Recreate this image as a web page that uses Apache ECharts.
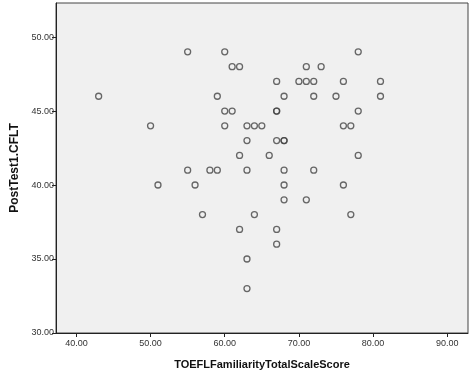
<!DOCTYPE html>
<html><head><meta charset="utf-8">
<script src="https://cdn.jsdelivr.net/npm/echarts@6/dist/echarts.min.js"></script>
<style>html,body{margin:0;padding:0;background:#fff}#c{width:474px;height:379px}</style>
</head><body><div id="c"></div>
<script>
const toeflScores = [55,60,78, 61,62,71,73, 67,70,71,72,76,81, 43,59,68,72,75,81, 60,61,67,67,78, 50,60,63,64,65,76,77, 63,67,68,68, 62,66,78, 55,58,59,63,68,72, 51,56,68,76, 68,71, 57,64,77, 62,67, 67, 63, 63];
const postTestScores = [49,49,49, 48,48,48,48, 47,47,47,47,47,47, 46,46,46,46,46,46, 45,45,45,45,45, 44,44,44,44,44,44,44, 43,43,43,43, 42,42,42, 41,41,41,41,41,41, 40,40,40,40, 39,39, 38,38,38, 37,37, 36, 35, 33];
const xTicks = [40,50,60,70,80,90];
const yTicks = [30,35,40,45,50];
const xTitle = 'TOEFLFamiliarityTotalScaleScore';
const yTitle = 'PostTest1.CFLT';

const points = toeflScores.map((x,i)=>[x, postTestScores[i]]);
const chart = echarts.init(document.getElementById('c'));
const lblStyle = {color:'#333', fontSize:9, fontFamily:'Liberation Sans, Arial', formatter:v=>v.toFixed(2)};
chart.setOption({
  animation:false,
  grid:{left:56, right:6, top:3, bottom:46, show:true, backgroundColor:'#f0f0f0', borderColor:'#444', borderWidth:1},
  xAxis:{type:'value', min:37.25, max:92.8, name:xTitle, nameLocation:'middle', nameGap:26,
    nameTextStyle:{fontSize:11, fontWeight:'bold', color:'#111', fontFamily:'Liberation Sans, Arial'},
    axisLine:{lineStyle:{color:'#222'}}, axisTick:{customValues:xTicks, length:4, lineStyle:{color:'#222'}},
    axisLabel:Object.assign({customValues:xTicks, margin:6}, lblStyle), splitLine:{show:false}},
  yAxis:{type:'value', min:30, max:52.3, name:yTitle, nameLocation:'middle', nameGap:34,
    nameTextStyle:{fontSize:12, fontWeight:'bold', color:'#111', fontFamily:'Liberation Sans, Arial'},
    axisLine:{show:true, lineStyle:{color:'#222'}}, axisTick:{show:true, customValues:yTicks, length:4, lineStyle:{color:'#222'}},
    axisLabel:Object.assign({customValues:yTicks, margin:2}, lblStyle), splitLine:{show:false}},
  series:[{type:'scatter', data:points, symbol:'circle', symbolSize:6,
    itemStyle:{color:'rgba(0,0,0,0)', borderColor:'#444', borderWidth:1.3}}]
});
</script></body></html>
